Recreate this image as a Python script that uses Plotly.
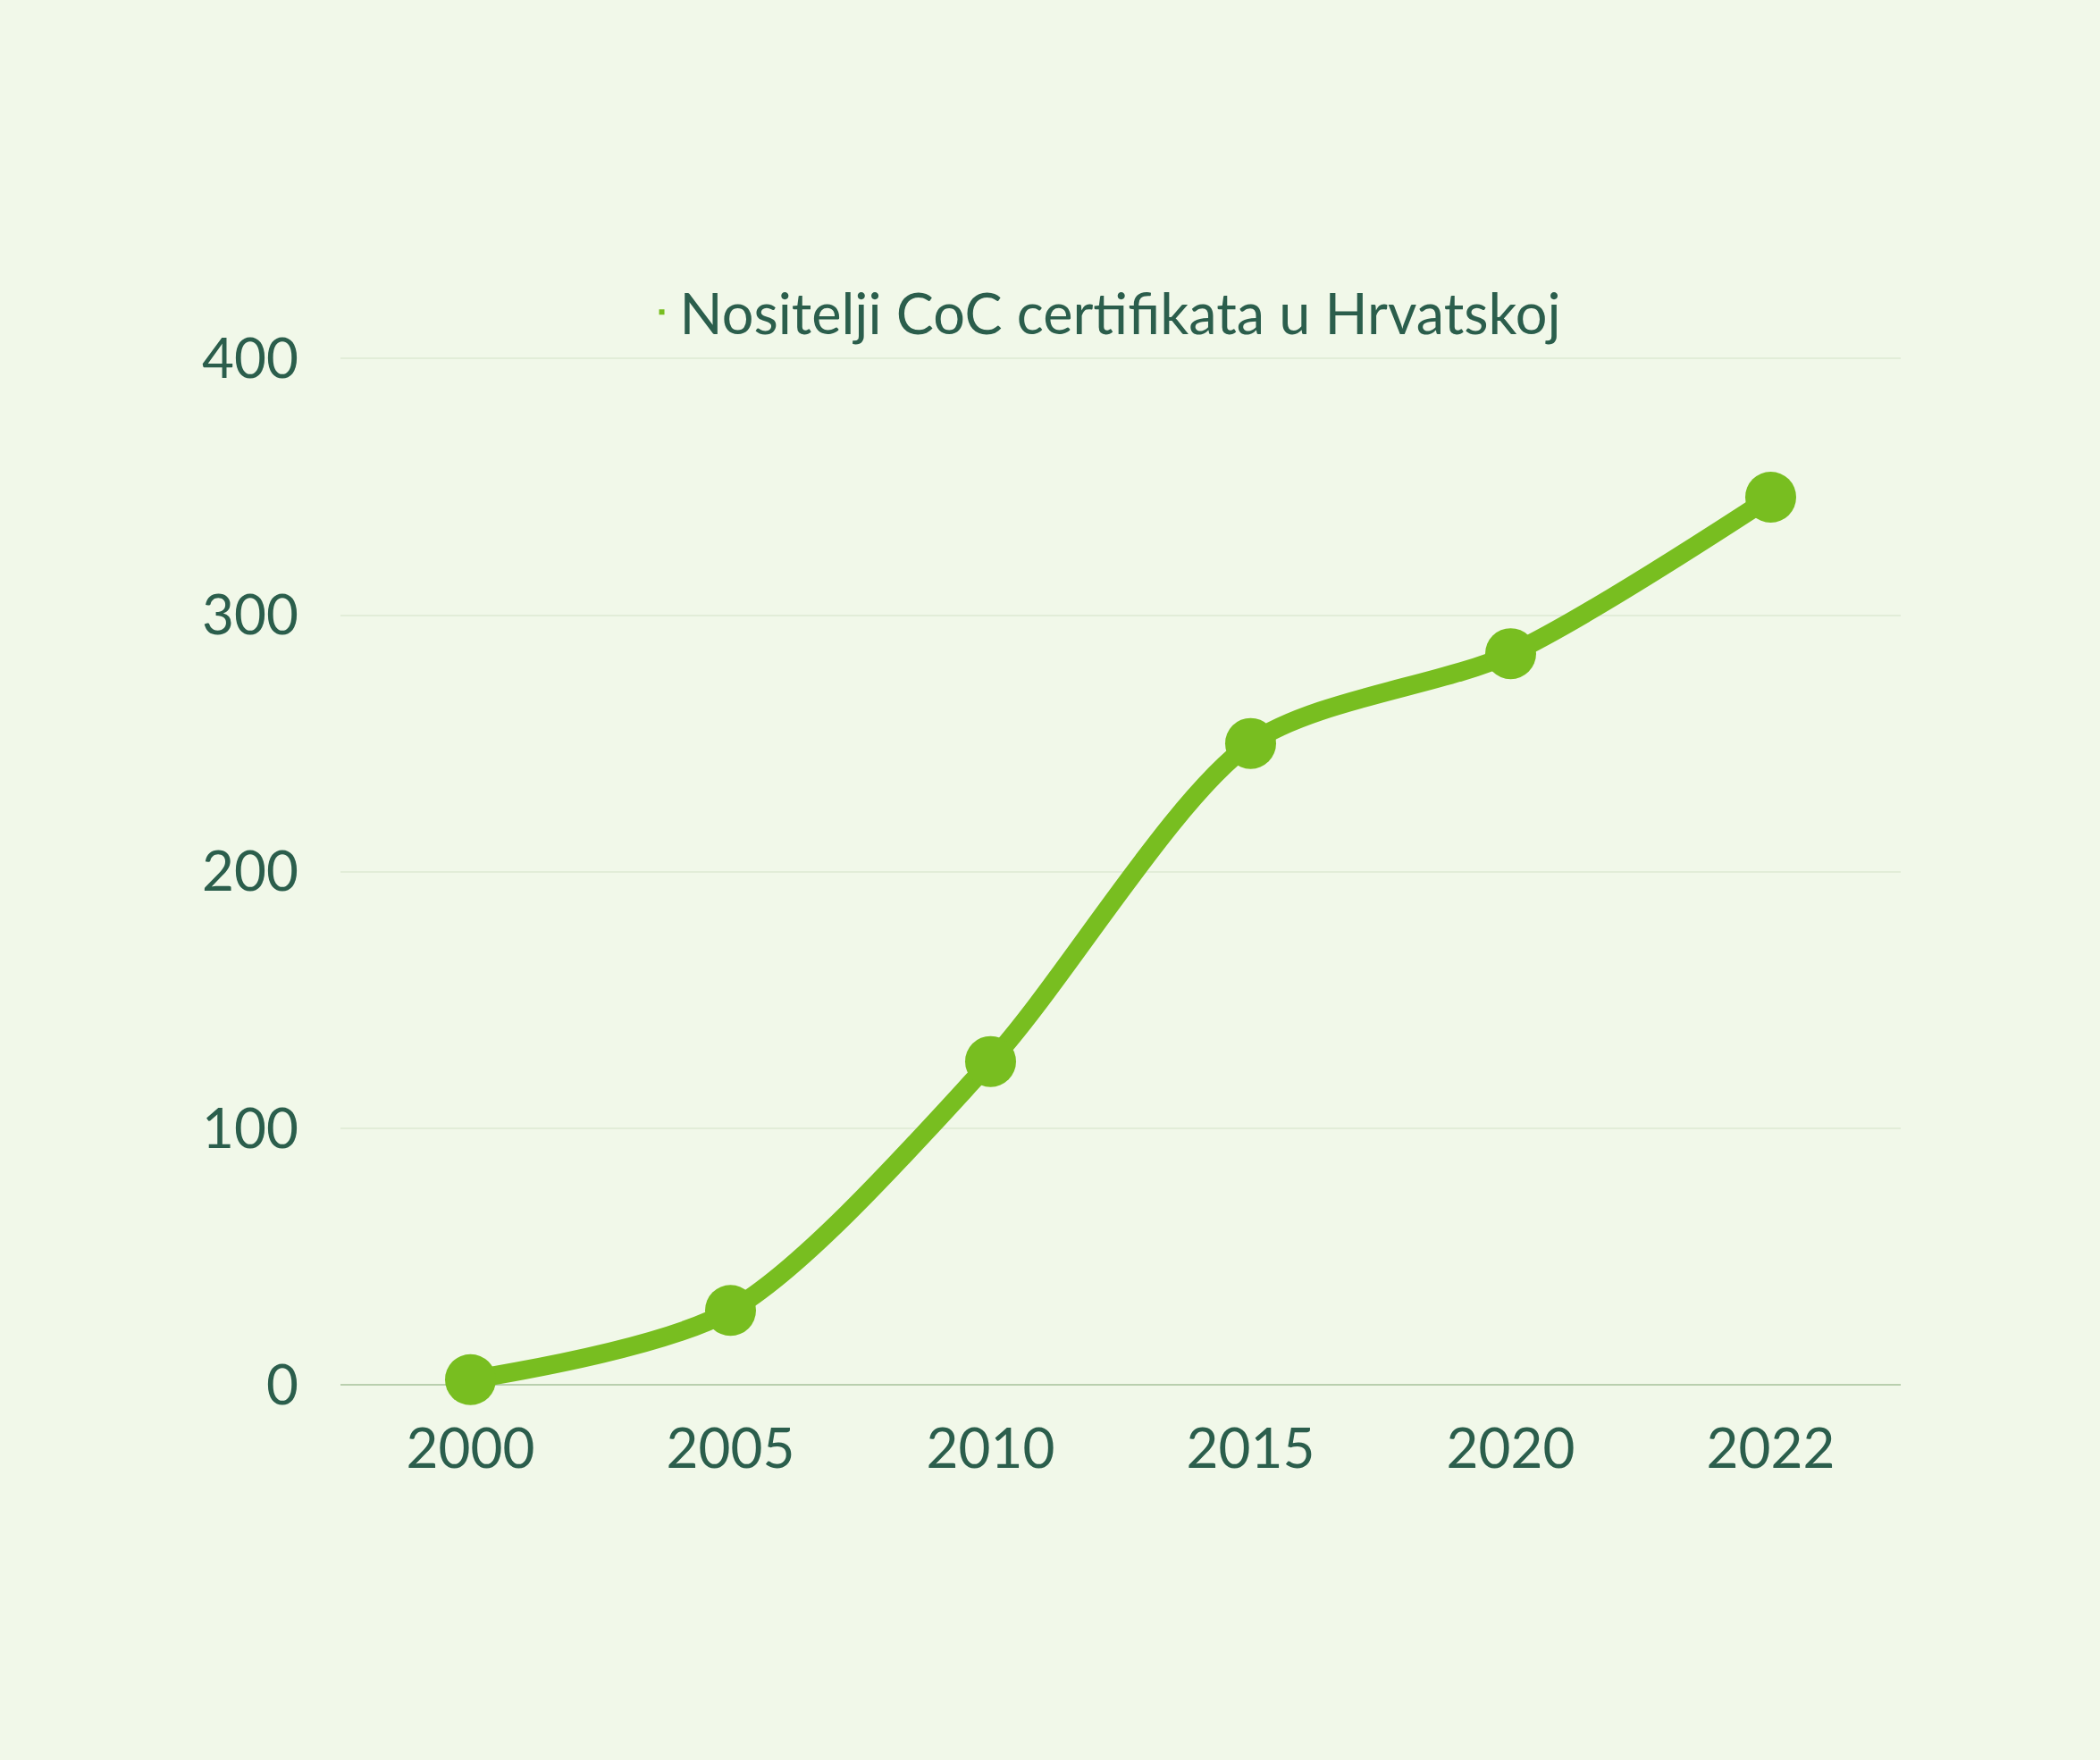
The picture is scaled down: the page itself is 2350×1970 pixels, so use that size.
import plotly.graph_objects as go

# Nositelji CoC certifikata u Hrvatskoj, by year
years = ["2000", "2005", "2010", "2015", "2020", "2022"]
holders = [2, 29, 126, 250, 285, 346]
y_ticks = [0, 100, 200, 300, 400]

series_name = "Nositelji CoC certifikata u Hrvatskoj"

green = "#78BE20"
text_col = "#2B5E4C"
bg = "#F1F8E9"

fig = go.Figure()

fig.add_trace(go.Scatter(
    x=years,
    y=holders,
    mode="lines+markers",
    line=dict(color=green, width=21, shape="spline", smoothing=0.8),
    marker=dict(color=green, size=57),
    cliponaxis=False,
    showlegend=False,
    name=series_name,
))

# legend entry only: small square box like the original
fig.add_trace(go.Scatter(
    x=[None],
    y=[None],
    mode="markers",
    marker=dict(color=green, size=6, symbol="square"),
    name=series_name,
    showlegend=True,
))

fig.update_layout(
    width=2350,
    height=1970,
    paper_bgcolor=bg,
    plot_bgcolor=bg,
    margin=dict(l=381, r=223, t=400, b=420),
    font=dict(family="Lato", size=62, color=text_col),
    legend=dict(
        orientation="h",
        x=0.49,
        xanchor="center",
        y=1.044,
        yanchor="middle",
        bgcolor="rgba(0,0,0,0)",
        font=dict(size=63, color=text_col),
        itemwidth=30,
    ),
    xaxis=dict(
        type="category",
        range=[-0.5, 5.5],
        showgrid=False,
        zeroline=False,
        showline=False,
        ticks="",
        ticklabelstandoff=30,
    ),
    yaxis=dict(
        range=[0, 400.5],
        tickvals=y_ticks,
        showgrid=True,
        gridcolor="#E2EDD8",
        gridwidth=2,
        zeroline=True,
        zerolinecolor="#B9CFAE",
        zerolinewidth=2,
        showline=False,
        ticks="",
        ticklabelstandoff=46,
    ),
)

# drop the browser's default page margin so the figure fills the window
fig.write_html(
    "out.html",
    config={"displayModeBar": False},
    post_script="document.body.style.margin='0';document.body.style.background='" + bg + "';",
)
